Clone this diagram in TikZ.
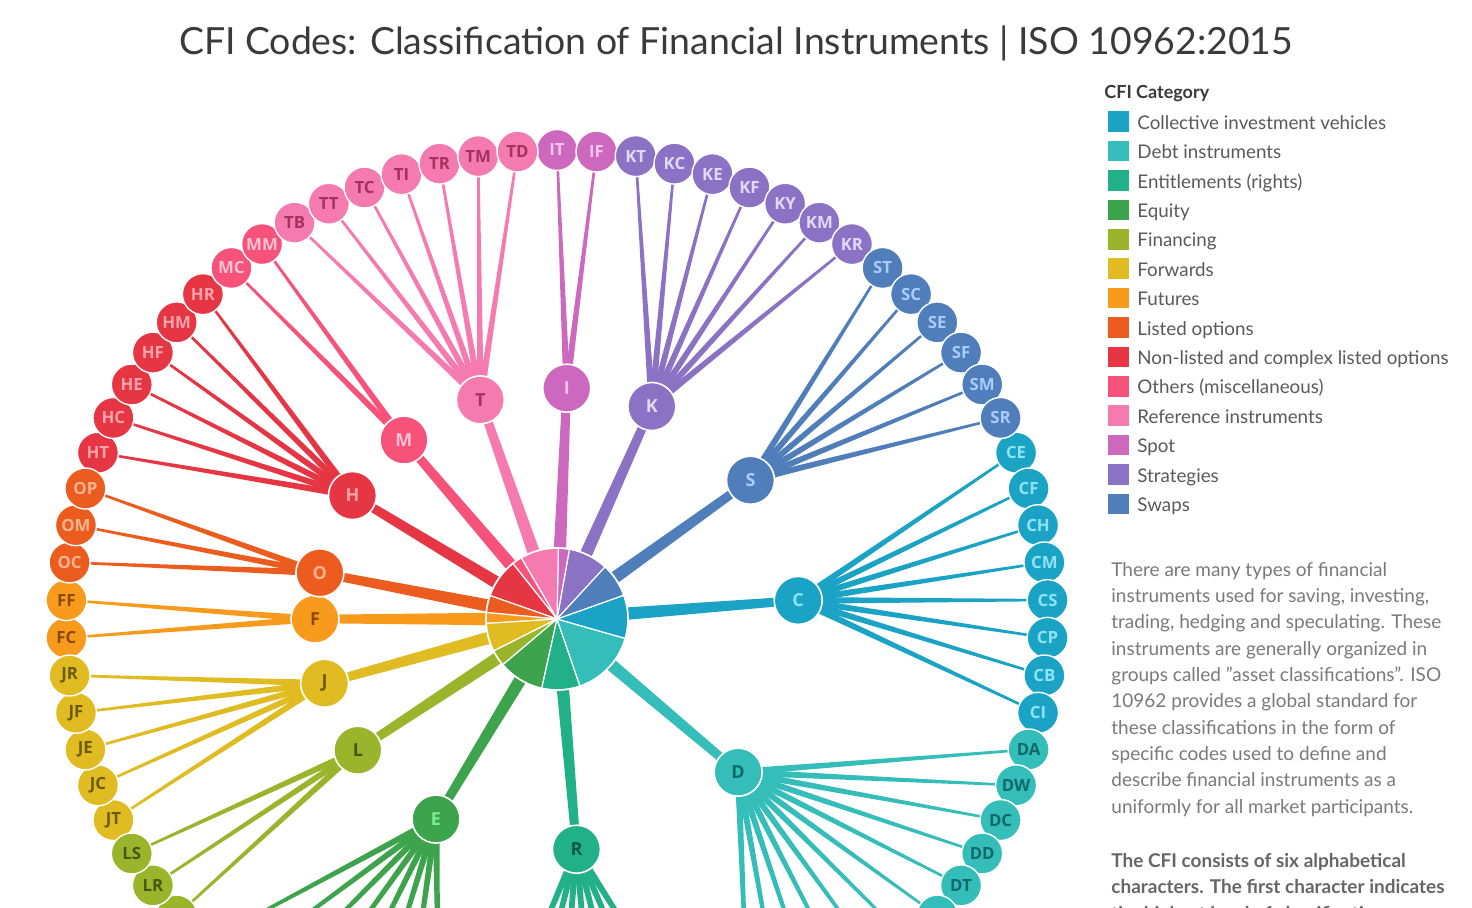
\documentclass[tikz,border=0pt]{standalone}
\usepackage{fontspec}
\setmainfont{Lato}
\newfontfamily\codefont{Open Sans}
\usetikzlibrary{calc,backgrounds}

\definecolor{cC}{HTML}{1BA3C6}\definecolor{tC}{HTML}{8FE3F5}
\definecolor{cD}{HTML}{35BDBA}\definecolor{tD}{HTML}{0E6B69}
\definecolor{cR}{HTML}{22B088}\definecolor{tR}{HTML}{0C5A46}
\definecolor{cE}{HTML}{3DA44D}\definecolor{tE}{HTML}{7DEC8D}
\definecolor{cL}{HTML}{9AB42C}\definecolor{tL}{HTML}{4A5610}
\definecolor{cJ}{HTML}{E0BC22}\definecolor{tJ}{HTML}{6B5A08}
\definecolor{cF}{HTML}{F89A1C}\definecolor{tF}{HTML}{8A4B00}
\definecolor{cO}{HTML}{EC5C1F}\definecolor{tO}{HTML}{FFB48F}
\definecolor{cH}{HTML}{E63644}\definecolor{tH}{HTML}{FFA3AA}
\definecolor{cM}{HTML}{F6527A}\definecolor{tM}{HTML}{FFC2D0}
\definecolor{cT}{HTML}{F57AAF}\definecolor{tT}{HTML}{A3325F}
\definecolor{cI}{HTML}{CC68BD}\definecolor{tI}{HTML}{F7C4EF}
\definecolor{cK}{HTML}{8B72C5}\definecolor{tK}{HTML}{E2D9FF}
\definecolor{cS}{HTML}{4F7EBB}\definecolor{tS}{HTML}{A9CBFF}
\definecolor{ink}{HTML}{3A3A3A}
\definecolor{keyink}{HTML}{5A5A5A}
\definecolor{bodyink}{HTML}{7A7A7A}
\definecolor{boldink}{HTML}{666666}

\begin{document}
\begin{tikzpicture}[x=0.5pt, y=0.5pt,
	spoke/.style 2 args={to path={($(\tikztostart)!#1!90:(\tikztotarget)$) -- ($(\tikztotarget)!#2!-90:(\tikztostart)$) -- ($(\tikztotarget)!#2!90:(\tikztostart)$) -- ($(\tikztostart)!#1!-90:(\tikztotarget)$) -- cycle}},
	twig/.style={spoke={1.7pt}{0.55pt}},
	trunk/.style={spoke={3.5pt}{2.1pt}},
	leaf/.style={circle, draw=white, line width=0.7pt, minimum size=20.5pt, inner sep=0pt, font=\codefont\bfseries\fontsize{8.4}{9}\selectfont},
	hub/.style={circle, draw=white, line width=0.8pt, minimum size=24pt, inner sep=0pt, font=\codefont\bfseries\fontsize{9}{10}\selectfont},
	slice/.style={draw=white, line width=0.6pt},
	catC/.style={fill=cC, text=tC}, catD/.style={fill=cD, text=tD},
	catR/.style={fill=cR, text=tR}, catE/.style={fill=cE, text=tE},
	catL/.style={fill=cL, text=tL}, catJ/.style={fill=cJ, text=tJ},
	catF/.style={fill=cF, text=tF}, catO/.style={fill=cO, text=tO},
	catH/.style={fill=cH, text=tH}, catM/.style={fill=cM, text=tM},
	catT/.style={fill=cT, text=tT}, catI/.style={fill=cI, text=tI},
	catK/.style={fill=cK, text=tK}, catS/.style={fill=cS, text=tS},
	key/.style={minimum size=10.25pt, inner sep=0pt},
	keytext/.style={anchor=base west, inner sep=0pt, text=keyink, font=\fontsize{9.4}{11}\selectfont}]

	\useasboundingbox (-557,-289) rectangle (915,619);

	\node[anchor=base, text=ink, font=\fontsize{18.7}{21}\selectfont] (title) at (179,564) {CFI Codes: Classification of Financial Instruments | ISO 10962:2015};

	\coordinate (pie) at (0,0);

	\node[hub, catC] (C) at (4.615:242 and 231) {C};
	\node[hub, catD] (D) at (-41.538:242 and 231) {D};
	\node[hub, catE] (E) at (-120:242 and 231) {E};
	\node[hub, catF] (F) at (180:242 and 231) {F};
	\node[hub, catH] (H) at (147.692:242 and 231) {H};
	\node[hub, catI] (I) at (87.692:242 and 231) {I};
	\node[hub, catJ] (J) at (-163.846:242 and 231) {J};
	\node[hub, catK] (K) at (66.923:242 and 231) {K};
	\node[hub, catL] (L) at (-145.385:242 and 231) {L};
	\node[hub, catM] (M) at (129.231:242 and 231) {M};
	\node[hub, catO] (O) at (168.462:242 and 231) {O};
	\node[hub, catR] (R) at (-85.385:242 and 231) {R};
	\node[hub, catS] (S) at (36.923:242 and 231) {S};
	\node[hub, catT] (T) at (108.462:242 and 231) {T};

	\node[leaf, catC] (CE) at (20.769:491 and 469) {CE};
	\node[leaf, catC] (CF) at (16.154:491 and 469) {CF};
	\node[leaf, catC] (CH) at (11.538:491 and 469) {CH};
	\node[leaf, catC] (CM) at (6.923:491 and 469) {CM};
	\node[leaf, catC] (CS) at (2.308:491 and 469) {CS};
	\node[leaf, catC] (CP) at (-2.308:491 and 469) {CP};
	\node[leaf, catC] (CB) at (-6.923:491 and 469) {CB};
	\node[leaf, catC] (CI) at (-11.538:491 and 469) {CI};

	\node[leaf, catD] (DA) at (-16.154:491 and 469) {DA};
	\node[leaf, catD] (DW) at (-20.769:491 and 469) {DW};
	\node[leaf, catD] (DC) at (-25.385:491 and 469) {DC};
	\node[leaf, catD] (DD) at (-30:491 and 469) {DD};
	\node[leaf, catD] (DT) at (-34.615:491 and 469) {DT};
	\node[leaf, catD] (D6) at (-39.231:491 and 469) {};
	\coordinate (D7) at (-43.846:491 and 469);
	\coordinate (D8) at (-48.462:491 and 469);
	\coordinate (D9) at (-53.077:491 and 469);
	\coordinate (D10) at (-57.692:491 and 469);
	\coordinate (D11) at (-62.308:491 and 469);
	\coordinate (D12) at (-66.923:491 and 469);

	\coordinate (E1) at (-103.846:491 and 469);
	\coordinate (E2) at (-108.462:491 and 469);
	\coordinate (E3) at (-113.077:491 and 469);
	\coordinate (E4) at (-117.692:491 and 469);
	\coordinate (E5) at (-122.308:491 and 469);
	\coordinate (E6) at (-126.923:491 and 469);
	\coordinate (E7) at (-131.538:491 and 469);
	\coordinate (E8) at (-136.154:491 and 469);

	\node[leaf, catF] (FC) at (-177.692:491 and 469) {FC};
	\node[leaf, catF] (FF) at (177.692:491 and 469) {FF};

	\node[leaf, catH] (HT) at (159.231:491 and 469) {HT};
	\node[leaf, catH] (HC) at (154.615:491 and 469) {HC};
	\node[leaf, catH] (HE) at (150:491 and 469) {HE};
	\node[leaf, catH] (HF) at (145.385:491 and 469) {HF};
	\node[leaf, catH] (HM) at (140.769:491 and 469) {HM};
	\node[leaf, catH] (HR) at (136.154:491 and 469) {HR};

	\node[leaf, catI] (IT) at (90:491 and 469) {IT};
	\node[leaf, catI] (IF) at (85.385:491 and 469) {IF};

	\node[leaf, catJ] (JT) at (-154.615:491 and 469) {JT};
	\node[leaf, catJ] (JC) at (-159.231:491 and 469) {JC};
	\node[leaf, catJ] (JE) at (-163.846:491 and 469) {JE};
	\node[leaf, catJ] (JF) at (-168.462:491 and 469) {JF};
	\node[leaf, catJ] (JR) at (-173.077:491 and 469) {JR};

	\node[leaf, catK] (KT) at (80.769:491 and 469) {KT};
	\node[leaf, catK] (KC) at (76.154:491 and 469) {KC};
	\node[leaf, catK] (KE) at (71.538:491 and 469) {KE};
	\node[leaf, catK] (KF) at (66.923:491 and 469) {KF};
	\node[leaf, catK] (KY) at (62.308:491 and 469) {KY};
	\node[leaf, catK] (KM) at (57.692:491 and 469) {KM};
	\node[leaf, catK] (KR) at (53.077:491 and 469) {KR};

	\node[leaf, catL] (L1) at (-140.769:491 and 469) {};
	\node[leaf, catL] (LR) at (-145.385:491 and 469) {LR};
	\node[leaf, catL] (LS) at (-150:491 and 469) {LS};

	\node[leaf, catM] (MC) at (131.538:491 and 469) {MC};
	\node[leaf, catM] (MM) at (126.923:491 and 469) {MM};

	\node[leaf, catO] (OC) at (173.077:491 and 469) {OC};
	\node[leaf, catO] (OM) at (168.462:491 and 469) {OM};
	\node[leaf, catO] (OP) at (163.846:491 and 469) {OP};

	\coordinate (R1) at (-71.538:491 and 469);
	\coordinate (R2) at (-76.154:491 and 469);
	\coordinate (R3) at (-80.769:491 and 469);
	\coordinate (R4) at (-85.385:491 and 469);
	\coordinate (R5) at (-90:491 and 469);
	\coordinate (R6) at (-94.615:491 and 469);
	\coordinate (R7) at (-99.231:491 and 469);

	\node[leaf, catS] (ST) at (48.462:491 and 469) {ST};
	\node[leaf, catS] (SC) at (43.846:491 and 469) {SC};
	\node[leaf, catS] (SE) at (39.231:491 and 469) {SE};
	\node[leaf, catS] (SF) at (34.615:491 and 469) {SF};
	\node[leaf, catS] (SM) at (30:491 and 469) {SM};
	\node[leaf, catS] (SR) at (25.385:491 and 469) {SR};

	\node[leaf, catT] (TB) at (122.308:491 and 469) {TB};
	\node[leaf, catT] (TT) at (117.692:491 and 469) {TT};
	\node[leaf, catT] (TC) at (113.077:491 and 469) {TC};
	\node[leaf, catT] (TI) at (108.462:491 and 469) {TI};
	\node[leaf, catT] (TR) at (103.846:491 and 469) {TR};
	\node[leaf, catT] (TM) at (99.231:491 and 469) {TM};
	\node[leaf, catT] (TD) at (94.615:491 and 469) {TD};

	\begin{pgfonlayer}{background}
		\fill[white] (-557,-289) rectangle (915,619);

		\fill[cC, trunk] (pie) to (C);
		\fill[cD, trunk] (pie) to (D);
		\fill[cE, trunk] (pie) to (E);
		\fill[cF, trunk] (pie) to (F);
		\fill[cH, trunk] (pie) to (H);
		\fill[cI, trunk] (pie) to (I);
		\fill[cJ, trunk] (pie) to (J);
		\fill[cK, trunk] (pie) to (K);
		\fill[cL, trunk] (pie) to (L);
		\fill[cM, trunk] (pie) to (M);
		\fill[cO, trunk] (pie) to (O);
		\fill[cR, trunk] (pie) to (R);
		\fill[cS, trunk] (pie) to (S);
		\fill[cT, trunk] (pie) to (T);

		\fill[cC, twig] (C) to (CE);
		\fill[cC, twig] (C) to (CF);
		\fill[cC, twig] (C) to (CH);
		\fill[cC, twig] (C) to (CM);
		\fill[cC, twig] (C) to (CS);
		\fill[cC, twig] (C) to (CP);
		\fill[cC, twig] (C) to (CB);
		\fill[cC, twig] (C) to (CI);

		\fill[cD, twig] (D) to (DA);
		\fill[cD, twig] (D) to (DW);
		\fill[cD, twig] (D) to (DC);
		\fill[cD, twig] (D) to (DD);
		\fill[cD, twig] (D) to (DT);
		\fill[cD, twig] (D) to (D6);
		\fill[cD, twig] (D) to (D7);
		\fill[cD, twig] (D) to (D8);
		\fill[cD, twig] (D) to (D9);
		\fill[cD, twig] (D) to (D10);
		\fill[cD, twig] (D) to (D11);
		\fill[cD, twig] (D) to (D12);

		\fill[cR, twig] (R) to (R1);
		\fill[cR, twig] (R) to (R2);
		\fill[cR, twig] (R) to (R3);
		\fill[cR, twig] (R) to (R4);
		\fill[cR, twig] (R) to (R5);
		\fill[cR, twig] (R) to (R6);
		\fill[cR, twig] (R) to (R7);

		\fill[cE, twig] (E) to (E1);
		\fill[cE, twig] (E) to (E2);
		\fill[cE, twig] (E) to (E3);
		\fill[cE, twig] (E) to (E4);
		\fill[cE, twig] (E) to (E5);
		\fill[cE, twig] (E) to (E6);
		\fill[cE, twig] (E) to (E7);
		\fill[cE, twig] (E) to (E8);

		\fill[cL, twig] (L) to (L1);
		\fill[cL, twig] (L) to (LR);
		\fill[cL, twig] (L) to (LS);

		\fill[cJ, twig] (J) to (JT);
		\fill[cJ, twig] (J) to (JC);
		\fill[cJ, twig] (J) to (JE);
		\fill[cJ, twig] (J) to (JF);
		\fill[cJ, twig] (J) to (JR);

		\fill[cF, twig] (F) to (FC);
		\fill[cF, twig] (F) to (FF);

		\fill[cO, twig] (O) to (OC);
		\fill[cO, twig] (O) to (OM);
		\fill[cO, twig] (O) to (OP);

		\fill[cH, twig] (H) to (HT);
		\fill[cH, twig] (H) to (HC);
		\fill[cH, twig] (H) to (HE);
		\fill[cH, twig] (H) to (HF);
		\fill[cH, twig] (H) to (HM);
		\fill[cH, twig] (H) to (HR);

		\fill[cM, twig] (M) to (MC);
		\fill[cM, twig] (M) to (MM);

		\fill[cT, twig] (T) to (TB);
		\fill[cT, twig] (T) to (TT);
		\fill[cT, twig] (T) to (TC);
		\fill[cT, twig] (T) to (TI);
		\fill[cT, twig] (T) to (TR);
		\fill[cT, twig] (T) to (TM);
		\fill[cT, twig] (T) to (TD);

		\fill[cI, twig] (I) to (IT);
		\fill[cI, twig] (I) to (IF);

		\fill[cK, twig] (K) to (KT);
		\fill[cK, twig] (K) to (KC);
		\fill[cK, twig] (K) to (KE);
		\fill[cK, twig] (K) to (KF);
		\fill[cK, twig] (K) to (KY);
		\fill[cK, twig] (K) to (KM);
		\fill[cK, twig] (K) to (KR);

		\fill[cS, twig] (S) to (ST);
		\fill[cS, twig] (S) to (SC);
		\fill[cS, twig] (S) to (SE);
		\fill[cS, twig] (S) to (SF);
		\fill[cS, twig] (S) to (SM);
		\fill[cS, twig] (S) to (SR);

		\filldraw[cK, slice] (pie) -- +(47.3:35.5pt) arc[start angle=47.3, end angle=79.9, radius=35.5pt] -- cycle;
		\filldraw[cI, slice] (pie) -- +(79.9:35.5pt) arc[start angle=79.9, end angle=88.9, radius=35.5pt] -- cycle;
		\filldraw[cT, slice] (pie) -- +(88.9:35.5pt) arc[start angle=88.9, end angle=120.3, radius=35.5pt] -- cycle;
		\filldraw[cM, slice] (pie) -- +(120.3:35.5pt) arc[start angle=120.3, end angle=128.5, radius=35.5pt] -- cycle;
		\filldraw[cH, slice] (pie) -- +(128.5:35.5pt) arc[start angle=128.5, end angle=160.7, radius=35.5pt] -- cycle;
		\filldraw[cO, slice] (pie) -- +(160.7:35.5pt) arc[start angle=160.7, end angle=174.8, radius=35.5pt] -- cycle;
		\filldraw[cF, slice] (pie) -- +(174.8:35.5pt) arc[start angle=174.8, end angle=183.6, radius=35.5pt] -- cycle;
		\filldraw[cJ, slice] (pie) -- +(183.6:35.5pt) arc[start angle=183.6, end angle=206.8, radius=35.5pt] -- cycle;
		\filldraw[cL, slice] (pie) -- +(206.8:35.5pt) arc[start angle=206.8, end angle=220.2, radius=35.5pt] -- cycle;
		\filldraw[cE, slice] (pie) -- +(220.2:35.5pt) arc[start angle=220.2, end angle=257.6, radius=35.5pt] -- cycle;
		\filldraw[cR, slice] (pie) -- +(257.6:35.5pt) arc[start angle=257.6, end angle=288.9, radius=35.5pt] -- cycle;
		\filldraw[cD, slice] (pie) -- +(288.9:35.5pt) arc[start angle=288.9, end angle=344.1, radius=35.5pt] -- cycle;
		\filldraw[cC, slice] (pie) -- +(344.1:35.5pt) arc[start angle=344.1, end angle=379.6, radius=35.5pt] -- cycle;
		\filldraw[cS, slice] (pie) -- +(19.6:35.5pt) arc[start angle=19.6, end angle=47.3, radius=35.5pt] -- cycle;
		\draw[white, line width=0.8pt] (pie) circle[radius=35.5pt];
	\end{pgfonlayer}

	\node[anchor=base west, inner sep=0pt, text=ink, font=\bfseries\fontsize{9}{11}\selectfont] (keytitle) at (547,520) {CFI Category};
	\node[key, fill=cC] (kC) at (561.5,497.3) {};
	\node[keytext] (lC) at (580,489.7) {Collective investment vehicles};
	\node[key, fill=cD] (kD) at (561.5,467.9) {};
	\node[keytext] (lD) at (580,460.3) {Debt instruments};
	\node[key, fill=cR] (kR) at (561.5,438.5) {};
	\node[keytext] (lR) at (580,430.9) {Entitlements (rights)};
	\node[key, fill=cE] (kE) at (561.5,409.1) {};
	\node[keytext] (lE) at (580,401.5) {Equity};
	\node[key, fill=cL] (kL) at (561.5,379.7) {};
	\node[keytext] (lL) at (580,372.1) {Financing};
	\node[key, fill=cJ] (kJ) at (561.5,350.3) {};
	\node[keytext] (lJ) at (580,342.7) {Forwards};
	\node[key, fill=cF] (kF) at (561.5,320.9) {};
	\node[keytext] (lF) at (580,313.3) {Futures};
	\node[key, fill=cO] (kO) at (561.5,291.5) {};
	\node[keytext] (lO) at (580,283.9) {Listed options};
	\node[key, fill=cH] (kH) at (561.5,262.1) {};
	\node[keytext] (lH) at (580,254.5) {Non-listed and complex listed options};
	\node[key, fill=cM] (kM) at (561.5,232.7) {};
	\node[keytext] (lM) at (580,225.1) {Others (miscellaneous)};
	\node[key, fill=cT] (kT) at (561.5,203.3) {};
	\node[keytext] (lT) at (580,195.7) {Reference instruments};
	\node[key, fill=cI] (kI) at (561.5,173.9) {};
	\node[keytext] (lI) at (580,166.3) {Spot};
	\node[key, fill=cK] (kK) at (561.5,144.5) {};
	\node[keytext] (lK) at (580,136.9) {Strategies};
	\node[key, fill=cS] (kS) at (561.5,115.1) {};
	\node[keytext] (lS) at (580,107.5) {Swaps};

	\node[anchor=north west, inner sep=0pt, align=left, text=bodyink, font=\fontsize{9.5}{13.15}\selectfont] (about) at (554,57) {There are many types of financial\\
		instruments used for saving, investing,\\
		trading, hedging and speculating. These\\
		instruments are generally organized in\\
		groups called "asset classifications". ISO\\
		10962 provides a global standard for\\
		these classifications in the form of\\
		specific codes used to define and\\
		describe financial instruments as a\\
		uniformly for all market participants.};
	\node[anchor=north west, inner sep=0pt, align=left, text=boldink, font=\bfseries\fontsize{9.5}{13.15}\selectfont] (structure) at (554,-234) {The CFI consists of six alphabetical\\
		characters. The first character indicates\\
		the highest level of classification};
\end{tikzpicture}
\end{document}
